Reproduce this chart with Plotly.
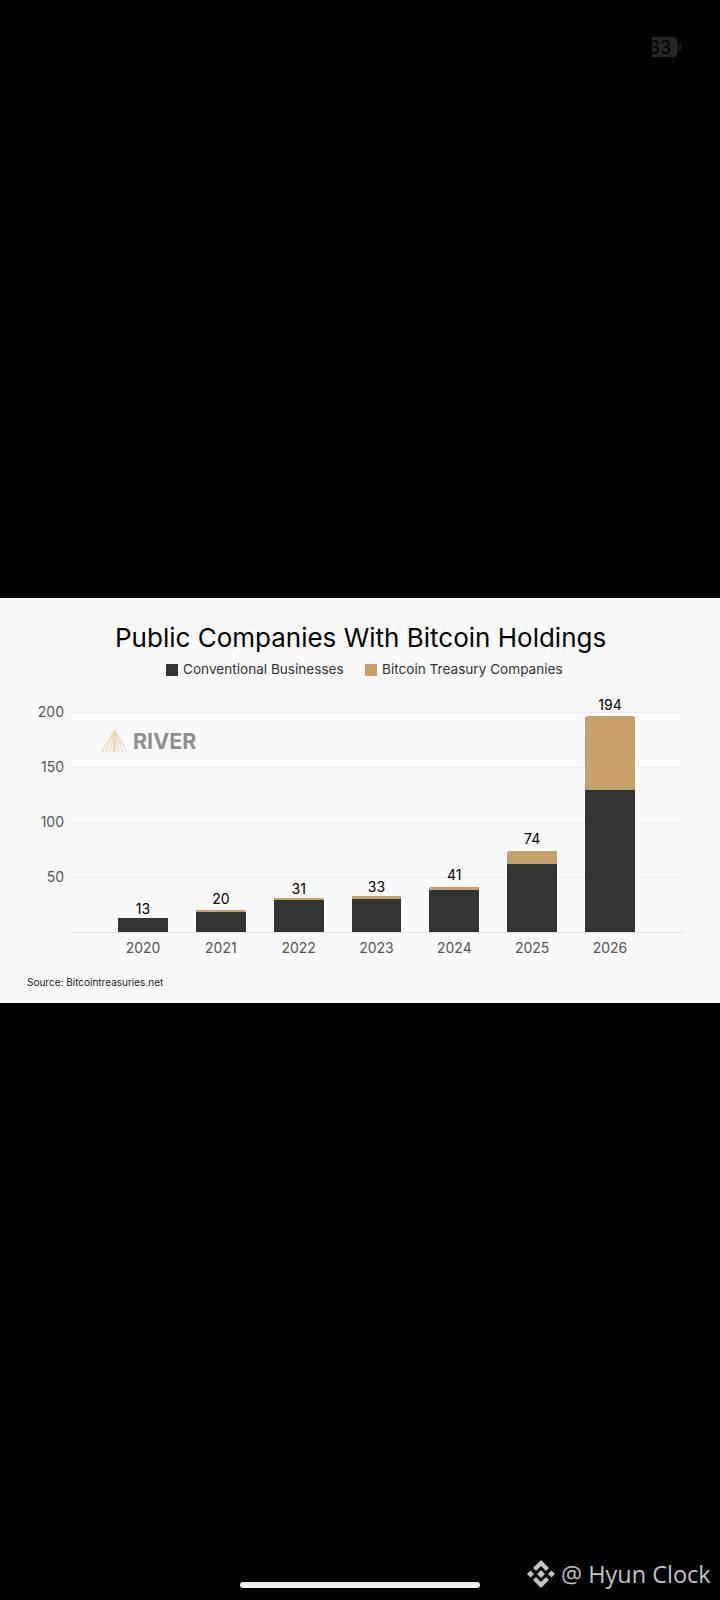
import plotly.graph_objects as go

W, H = 720, 1600

years = ['2020', '2021', '2022', '2023', '2024', '2025', '2026']
conventional = [13, 19, 29, 30, 38, 62, 129]
treasury = [0, 1, 2, 3, 3, 12, 67]
total_labels = ['13', '20', '31', '33', '41', '74', '194']
y_ticks = [50, 100, 150, 200]

DARK = '#333333'
TAN = '#c5a26a'
PANEL = '#fafafa'
FONT = 'Inter'


def px(x):
    return x / W


def py(y):
    return 1 - y / H


def path(points):
    """ closed svg path from screen pixels, in paper coordinates """
    return 'M' + 'L'.join(f'{px(x):.5f},{py(y):.5f}' for x, y in points) + 'Z'


def box(x0, y0, x1, y1, color, kind='rect'):
    return dict(type=kind, xref='paper', yref='paper', layer='below',
                x0=px(x0), x1=px(x1), y0=py(y0), y1=py(y1),
                fillcolor=color, line_width=0)


def poly(points, color):
    return dict(type='path', xref='paper', yref='paper', layer='above',
                path=path(points), fillcolor=color, line_width=0)


def line(x0, y0, x1, y1, color, width=1):
    return dict(type='line', xref='paper', yref='paper', layer='above',
                x0=px(x0), x1=px(x1), y0=py(y0), y1=py(y1),
                line=dict(color=color, width=width))


def label(x, y, text, size, color, anchor='left', family=FONT):
    return dict(xref='paper', yref='paper', x=px(x), y=py(y), text=text,
                showarrow=False, xanchor=anchor, yanchor='middle',
                font=dict(family=family, size=size, color=color))


# the labels on the taller stacks sit a little higher in the original
lift = [0, 2, 0, 0, 3, 3, 3]
label_y = [c + t + k for c, t, k in zip(conventional, treasury, lift)]

fig = go.Figure()
fig.add_trace(go.Bar(x=years, y=conventional, name='Conventional Businesses',
                     marker_color=DARK, marker_line_width=0))
fig.add_trace(go.Bar(x=years, y=treasury, name='Bitcoin Treasury Companies',
                     marker_color=TAN, marker_line_width=0))
# totals above the stacks
fig.add_trace(go.Scatter(x=years, y=label_y, mode='text', text=total_labels,
                         textposition='top center', cliponaxis=False,
                         textfont=dict(family=FONT, size=14, color='#000000')))

# white panel, legend swatches, status bar and home bar
shapes = [
    box(0, 598, W, 1003, PANEL),
    box(166, 664, 178, 676, DARK),
    box(365, 664, 377, 676, TAN),
    box(652, 37, 675, 57, '#262626'),
    box(670, 37, 678, 57, '#262626', 'circle'),
    box(679, 43, 681, 51, '#1c1c1c'),
    box(243, 1582, 477, 1588, '#eeeeee'),
    box(240, 1582, 246, 1588, '#eeeeee', 'circle'),
    box(474, 1582, 480, 1588, '#eeeeee', 'circle'),
]

# river logo, a fan of lines that meet at the peak
for foot in [102, 106, 110, 113, 114.5, 116, 119, 123, 127]:
    shapes.append(line(114.5, 730, foot, 752, '#e8d9bd', 1.2))

# binance mark
cx, cy = 541, 1574
grey = '#c4c4c4'
shapes += [
    poly([(cx, cy - 4), (cx + 4, cy), (cx, cy + 4), (cx - 4, cy)], grey),
    poly([(cx - 14, cy), (cx - 10.5, cy - 3.5), (cx - 7, cy), (cx - 10.5, cy + 3.5)], grey),
    poly([(cx + 14, cy), (cx + 10.5, cy - 3.5), (cx + 7, cy), (cx + 10.5, cy + 3.5)], grey),
    poly([(cx, cy - 14), (cx + 8, cy - 6), (cx + 5, cy - 3), (cx, cy - 8),
          (cx - 5, cy - 3), (cx - 8, cy - 6)], grey),
    poly([(cx, cy + 14), (cx + 8, cy + 6), (cx + 5, cy + 3), (cx, cy + 8),
          (cx - 5, cy + 3), (cx - 8, cy + 6)], grey),
]

annotations = [
    label(360, 637, 'Public Companies With Bitcoin Holdings', 26, '#000000', 'center'),
    label(181, 669, 'Conventional Businesses', 13.6, '#333333'),
    label(380, 669, 'Bitcoin Treasury Companies', 13.6, '#333333'),
    label(131, 741, '<b>RIVER</b>', 21.5, '#8f8f8f'),
    label(25, 982, 'Source: Bitcointreasuries.net', 10, '#222222'),
    label(559, 1574, '@ Hyun Clock', 23.5, '#c4c4c4', family='Open Sans'),
    label(660, 47, '33', 18, '#000000', 'center'),
]

fig.update_layout(
    width=W, height=H, autosize=False,
    margin=dict(l=0, r=0, t=0, b=0, pad=0),
    paper_bgcolor='#000000',
    plot_bgcolor=PANEL,
    barmode='stack',
    bargap=0.358,
    barcornerradius=2,
    showlegend=False,
    shapes=shapes,
    annotations=annotations,
    xaxis=dict(domain=[px(70), px(684)], type='category', range=[-0.938, 6.951],
               automargin=False, showgrid=False, showline=False, ticks='', ticklabelstandoff=6,
               tickfont=dict(family=FONT, size=14, color='#555555')),
    # range runs past 200 because plotly drops a gridline sitting on the axis end
    yaxis=dict(domain=[py(932), py(710.9)], range=[0, 201], tickvals=y_ticks,
               automargin=False, gridcolor='#eeeeee', gridwidth=1, zeroline=True,
               zerolinecolor='#e6e6e6', zerolinewidth=1, showline=False, ticks='',
               ticklabelstandoff=5,
               tickfont=dict(family=FONT, size=14, color='#555555')),
)

fig.write_html("out.html", config=dict(displayModeBar=False),
               post_script="document.body.style.margin='0';document.body.style.background='#000';document.body.style.overflow='hidden';")
